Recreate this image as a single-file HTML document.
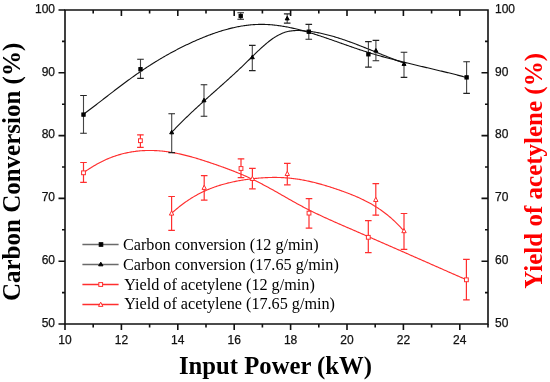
<!DOCTYPE html><html><head><meta charset="utf-8"><style>html,body{margin:0;padding:0;background:#fff;}svg{display:block;}</style></head><body>
<svg width="550" height="382" viewBox="0 0 550 382">
<rect width="550" height="382" fill="#fff"/>
<path d="M65,10 H488 V324 H65 Z" stroke="#111" stroke-width="1.6" fill="none" stroke-linecap="square"/>
<path d="M65.00,324 v6 M93.20,324 v3.5 M93.20,10 v3.5 M121.40,324 v6 M121.40,10 v6 M149.60,324 v3.5 M149.60,10 v3.5 M177.80,324 v6 M177.80,10 v6 M206.00,324 v3.5 M206.00,10 v3.5 M234.20,324 v6 M234.20,10 v6 M262.40,324 v3.5 M262.40,10 v3.5 M290.60,324 v6 M290.60,10 v6 M318.80,324 v3.5 M318.80,10 v3.5 M347.00,324 v6 M347.00,10 v6 M375.20,324 v3.5 M375.20,10 v3.5 M403.40,324 v6 M403.40,10 v6 M431.60,324 v3.5 M431.60,10 v3.5 M459.80,324 v6 M459.80,10 v6 M488.00,324 v3.5 M65,324.00 h-6.5 M65,292.60 h-3 M488,292.60 h-3 M65,261.20 h-6.5 M488,261.20 h-6.5 M65,229.80 h-3 M488,229.80 h-3 M65,198.40 h-6.5 M488,198.40 h-6.5 M65,167.00 h-3 M488,167.00 h-3 M65,135.60 h-6.5 M488,135.60 h-6.5 M65,104.20 h-3 M488,104.20 h-3 M65,72.80 h-6.5 M488,72.80 h-6.5 M65,41.40 h-3 M488,41.40 h-3 M65,10.00 h-6.5" stroke="#111" stroke-width="1.6" fill="none"/>
<g font-family="Liberation Sans, Arial, sans-serif" font-size="12" fill="#111" stroke="#111" stroke-width="0.25">
<text x="65.00" y="344" text-anchor="middle">10</text>
<text x="121.40" y="344" text-anchor="middle">12</text>
<text x="177.80" y="344" text-anchor="middle">14</text>
<text x="234.20" y="344" text-anchor="middle">16</text>
<text x="290.60" y="344" text-anchor="middle">18</text>
<text x="347.00" y="344" text-anchor="middle">20</text>
<text x="403.40" y="344" text-anchor="middle">22</text>
<text x="459.80" y="344" text-anchor="middle">24</text>
<text x="55" y="326.70" text-anchor="end">50</text>
<text x="495" y="326.70">50</text>
<text x="55" y="263.90" text-anchor="end">60</text>
<text x="495" y="263.90">60</text>
<text x="55" y="201.10" text-anchor="end">70</text>
<text x="495" y="201.10">70</text>
<text x="55" y="138.30" text-anchor="end">80</text>
<text x="495" y="138.30">80</text>
<text x="55" y="75.50" text-anchor="end">90</text>
<text x="495" y="75.50">90</text>
<text x="55" y="12.70" text-anchor="end">100</text>
<text x="495" y="12.70">100</text>
</g>
<text x="275.5" y="374" text-anchor="middle" font-family="Liberation Serif, Times New Roman, serif" font-weight="bold" font-size="24.7" fill="#000">Input Power (kW)</text>
<text transform="translate(20.4,171.9) rotate(-90)" text-anchor="middle" font-family="Liberation Serif, Times New Roman, serif" font-weight="bold" font-size="25" fill="#000">Carbon Conversion (%)</text>
<text transform="translate(541.6,170.9) rotate(-90)" text-anchor="middle" font-family="Liberation Serif, Times New Roman, serif" font-weight="bold" font-size="25" fill="#ff0000">Yield of acetylene (%)</text>
<path d="M83.50,114.30 L84.50,113.52 L85.50,112.77 L86.50,112.03 L87.50,111.28 L88.50,110.53 L89.50,109.77 L90.50,109.01 L91.50,108.26 L92.50,107.49 L93.50,106.73 L94.50,105.97 L95.50,105.20 L96.50,104.44 L97.50,103.67 L98.50,102.90 L99.50,102.13 L100.50,101.36 L101.50,100.59 L102.50,99.81 L103.50,99.04 L104.50,98.27 L105.50,97.49 L106.50,96.72 L107.50,95.95 L108.50,95.18 L109.50,94.41 L110.50,93.64 L111.50,92.87 L112.50,92.10 L113.50,91.33 L114.50,90.56 L115.50,89.80 L116.50,89.03 L117.50,88.27 L118.50,87.51 L119.50,86.75 L120.50,86.00 L121.50,85.24 L122.50,84.49 L123.50,83.74 L124.50,83.00 L125.50,82.26 L126.50,81.52 L127.50,80.78 L128.50,80.05 L129.50,79.32 L130.50,78.59 L131.50,77.87 L132.50,77.15 L133.50,76.43 L134.50,75.72 L135.50,75.02 L136.50,74.32 L137.50,73.62 L138.50,72.93 L139.50,72.24 L140.50,71.55 L141.50,70.87 L142.50,70.20 L143.50,69.53 L144.50,68.86 L145.50,68.20 L146.50,67.54 L147.50,66.89 L148.50,66.24 L149.50,65.60 L150.50,64.96 L151.50,64.32 L152.50,63.69 L153.50,63.07 L154.50,62.44 L155.50,61.83 L156.50,61.21 L157.50,60.60 L158.50,60.00 L159.50,59.40 L160.50,58.80 L161.50,58.21 L162.50,57.63 L163.50,57.04 L164.50,56.47 L165.50,55.89 L166.50,55.32 L167.50,54.76 L168.50,54.20 L169.50,53.64 L170.50,53.09 L171.50,52.54 L172.50,52.00 L173.50,51.46 L174.50,50.93 L175.50,50.40 L176.50,49.87 L177.50,49.35 L178.50,48.83 L179.50,48.32 L180.50,47.81 L181.50,47.31 L182.50,46.81 L183.50,46.31 L184.50,45.82 L185.50,45.34 L186.50,44.85 L187.50,44.38 L188.50,43.90 L189.50,43.43 L190.50,42.97 L191.50,42.51 L192.50,42.05 L193.50,41.60 L194.50,41.15 L195.50,40.71 L196.50,40.27 L197.50,39.84 L198.50,39.41 L199.50,38.98 L200.50,38.56 L201.50,38.14 L202.50,37.73 L203.50,37.32 L204.50,36.92 L205.50,36.52 L206.50,36.13 L207.50,35.74 L208.50,35.36 L209.50,34.98 L210.50,34.61 L211.50,34.24 L212.50,33.88 L213.50,33.53 L214.50,33.18 L215.50,32.83 L216.50,32.49 L217.50,32.16 L218.50,31.83 L219.50,31.51 L220.50,31.19 L221.50,30.88 L222.50,30.58 L223.50,30.28 L224.50,29.99 L225.50,29.71 L226.50,29.43 L227.50,29.16 L228.50,28.89 L229.50,28.63 L230.50,28.38 L231.50,28.14 L232.50,27.90 L233.50,27.67 L234.50,27.44 L235.50,27.23 L236.50,27.02 L237.50,26.82 L238.50,26.62 L239.50,26.44 L240.50,26.26 L241.50,26.08 L242.50,25.92 L243.50,25.76 L244.50,25.62 L245.50,25.47 L246.50,25.34 L247.50,25.22 L248.50,25.10 L249.50,24.99 L250.50,24.89 L251.50,24.80 L252.50,24.72 L253.50,24.64 L254.50,24.58 L255.50,24.52 L256.50,24.47 L257.50,24.43 L258.50,24.40 L259.50,24.38 L260.50,24.37 L261.50,24.37 L262.50,24.37 L263.50,24.39 L264.50,24.41 L265.50,24.44 L266.50,24.48 L267.50,24.53 L268.50,24.59 L269.50,24.65 L270.50,24.72 L271.50,24.80 L272.50,24.89 L273.50,24.99 L274.50,25.09 L275.50,25.20 L276.50,25.32 L277.50,25.45 L278.50,25.58 L279.50,25.72 L280.50,25.87 L281.50,26.02 L282.50,26.18 L283.50,26.35 L284.50,26.52 L285.50,26.70 L286.50,26.89 L287.50,27.08 L288.50,27.28 L289.50,27.48 L290.50,27.69 L291.50,27.91 L292.50,28.13 L293.50,28.35 L294.50,28.58 L295.50,28.82 L296.50,29.06 L297.50,29.31 L298.50,29.56 L299.50,29.82 L300.50,30.08 L301.50,30.34 L302.50,30.61 L303.50,30.89 L304.50,31.16 L305.50,31.45 L306.50,31.73 L307.50,32.02 L308.50,32.32 L309.50,32.62 L310.50,32.92 L311.50,33.22 L312.50,33.53 L313.50,33.84 L314.50,34.15 L315.50,34.47 L316.50,34.79 L317.50,35.11 L318.50,35.44 L319.50,35.76 L320.50,36.09 L321.50,36.43 L322.50,36.76 L323.50,37.10 L324.50,37.44 L325.50,37.78 L326.50,38.12 L327.50,38.46 L328.50,38.81 L329.50,39.15 L330.50,39.50 L331.50,39.85 L332.50,40.20 L333.50,40.55 L334.50,40.90 L335.50,41.25 L336.50,41.60 L337.50,41.96 L338.50,42.31 L339.50,42.66 L340.50,43.02 L341.50,43.37 L342.50,43.72 L343.50,44.08 L344.50,44.43 L345.50,44.78 L346.50,45.14 L347.50,45.49 L348.50,45.84 L349.50,46.19 L350.50,46.54 L351.50,46.88 L352.50,47.23 L353.50,47.57 L354.50,47.92 L355.50,48.26 L356.50,48.60 L357.50,48.94 L358.50,49.28 L359.50,49.61 L360.50,49.94 L361.50,50.27 L362.50,50.60 L363.50,50.93 L364.50,51.25 L365.50,51.57 L366.50,51.89 L367.50,52.20 L368.50,52.51 L369.50,52.82 L370.50,53.13 L371.50,53.43 L372.50,53.73 L373.50,54.03 L374.50,54.33 L375.50,54.63 L376.50,54.92 L377.50,55.21 L378.50,55.50 L379.50,55.78 L380.50,56.07 L381.50,56.35 L382.50,56.63 L383.50,56.90 L384.50,57.18 L385.50,57.45 L386.50,57.73 L387.50,58.00 L388.50,58.26 L389.50,58.53 L390.50,58.80 L391.50,59.06 L392.50,59.32 L393.50,59.58 L394.50,59.84 L395.50,60.10 L396.50,60.35 L397.50,60.61 L398.50,60.86 L399.50,61.11 L400.50,61.36 L401.50,61.61 L402.50,61.86 L403.50,62.11 L404.50,62.36 L405.50,62.60 L406.50,62.85 L407.50,63.09 L408.50,63.33 L409.50,63.57 L410.50,63.82 L411.50,64.06 L412.50,64.30 L413.50,64.53 L414.50,64.77 L415.50,65.01 L416.50,65.25 L417.50,65.49 L418.50,65.72 L419.50,65.96 L420.50,66.19 L421.50,66.43 L422.50,66.66 L423.50,66.90 L424.50,67.13 L425.50,67.37 L426.50,67.60 L427.50,67.84 L428.50,68.07 L429.50,68.31 L430.50,68.54 L431.50,68.78 L432.50,69.01 L433.50,69.25 L434.50,69.49 L435.50,69.72 L436.50,69.96 L437.50,70.20 L438.50,70.43 L439.50,70.67 L440.50,70.91 L441.50,71.15 L442.50,71.39 L443.50,71.63 L444.50,71.87 L445.50,72.11 L446.50,72.36 L447.50,72.60 L448.50,72.84 L449.50,73.09 L450.50,73.34 L451.50,73.59 L452.50,73.83 L453.50,74.08 L454.50,74.34 L455.50,74.59 L456.50,74.84 L457.50,75.10 L458.50,75.35 L459.50,75.61 L460.50,75.87 L461.50,76.13 L462.50,76.39 L463.50,76.66 L464.50,76.92 L465.50,77.19 L466.50,77.30" stroke="#111" stroke-width="1.1" fill="none"/>
<path d="M171.80,132.10 L172.80,131.13 L173.80,130.07 L174.80,129.02 L175.80,127.98 L176.80,126.95 L177.80,125.92 L178.80,124.91 L179.80,123.89 L180.80,122.89 L181.80,121.89 L182.80,120.90 L183.80,119.91 L184.80,118.93 L185.80,117.96 L186.80,116.99 L187.80,116.03 L188.80,115.07 L189.80,114.11 L190.80,113.17 L191.80,112.22 L192.80,111.28 L193.80,110.35 L194.80,109.42 L195.80,108.49 L196.80,107.57 L197.80,106.65 L198.80,105.73 L199.80,104.82 L200.80,103.91 L201.80,103.00 L202.80,102.09 L203.80,101.19 L204.80,100.29 L205.80,99.39 L206.80,98.49 L207.80,97.60 L208.80,96.71 L209.80,95.81 L210.80,94.92 L211.80,94.03 L212.80,93.14 L213.80,92.25 L214.80,91.36 L215.80,90.47 L216.80,89.58 L217.80,88.70 L218.80,87.81 L219.80,86.92 L220.80,86.02 L221.80,85.13 L222.80,84.24 L223.80,83.34 L224.80,82.45 L225.80,81.55 L226.80,80.65 L227.80,79.75 L228.80,78.84 L229.80,77.94 L230.80,77.03 L231.80,76.12 L232.80,75.20 L233.80,74.28 L234.80,73.36 L235.80,72.43 L236.80,71.50 L237.80,70.57 L238.80,69.63 L239.80,68.69 L240.80,67.74 L241.80,66.79 L242.80,65.84 L243.80,64.87 L244.80,63.91 L245.80,62.93 L246.80,61.96 L247.80,60.98 L248.80,59.99 L249.80,59.01 L250.80,58.03 L251.80,57.04 L252.80,56.06 L253.80,55.08 L254.80,54.11 L255.80,53.14 L256.80,52.18 L257.80,51.22 L258.80,50.28 L259.80,49.34 L260.80,48.42 L261.80,47.50 L262.80,46.60 L263.80,45.72 L264.80,44.85 L265.80,44.00 L266.80,43.16 L267.80,42.34 L268.80,41.55 L269.80,40.77 L270.80,40.01 L271.80,39.28 L272.80,38.57 L273.80,37.89 L274.80,37.23 L275.80,36.61 L276.80,36.00 L277.80,35.43 L278.80,34.89 L279.80,34.38 L280.80,33.90 L281.80,33.46 L282.80,33.05 L283.80,32.68 L284.80,32.34 L285.80,32.04 L286.80,31.77 L287.80,31.53 L288.80,31.32 L289.80,31.13 L290.80,30.98 L291.80,30.85 L292.80,30.75 L293.80,30.66 L294.80,30.60 L295.80,30.56 L296.80,30.54 L297.80,30.53 L298.80,30.54 L299.80,30.57 L300.80,30.61 L301.80,30.66 L302.80,30.72 L303.80,30.79 L304.80,30.86 L305.80,30.95 L306.80,31.05 L307.80,31.15 L308.80,31.27 L309.80,31.39 L310.80,31.52 L311.80,31.66 L312.80,31.81 L313.80,31.96 L314.80,32.13 L315.80,32.30 L316.80,32.48 L317.80,32.66 L318.80,32.86 L319.80,33.06 L320.80,33.27 L321.80,33.48 L322.80,33.71 L323.80,33.94 L324.80,34.17 L325.80,34.41 L326.80,34.66 L327.80,34.92 L328.80,35.18 L329.80,35.45 L330.80,35.72 L331.80,36.00 L332.80,36.29 L333.80,36.58 L334.80,36.87 L335.80,37.17 L336.80,37.48 L337.80,37.79 L338.80,38.11 L339.80,38.43 L340.80,38.75 L341.80,39.08 L342.80,39.42 L343.80,39.76 L344.80,40.10 L345.80,40.45 L346.80,40.80 L347.80,41.15 L348.80,41.51 L349.80,41.87 L350.80,42.23 L351.80,42.60 L352.80,42.97 L353.80,43.35 L354.80,43.72 L355.80,44.10 L356.80,44.48 L357.80,44.87 L358.80,45.26 L359.80,45.64 L360.80,46.04 L361.80,46.43 L362.80,46.82 L363.80,47.22 L364.80,47.62 L365.80,48.02 L366.80,48.42 L367.80,48.82 L368.80,49.22 L369.80,49.62 L370.80,50.03 L371.80,50.43 L372.80,50.84 L373.80,51.25 L374.80,51.65 L375.80,52.06 L376.80,52.46 L377.80,52.87 L378.80,53.28 L379.80,53.68 L380.80,54.09 L381.80,54.49 L382.80,54.89 L383.80,55.30 L384.80,55.70 L385.80,56.10 L386.80,56.50 L387.80,56.90 L388.80,57.29 L389.80,57.69 L390.80,58.08 L391.80,58.47 L392.80,58.86 L393.80,59.24 L394.80,59.63 L395.80,60.01 L396.80,60.39 L397.80,60.77 L398.80,61.14 L399.80,61.51 L400.80,61.88 L401.80,62.24 L402.80,62.60 L403.80,62.96 L404.10,63.10" stroke="#111" stroke-width="1.1" fill="none"/>
<path d="M83.60,172.50 L84.60,171.98 L85.60,171.27 L86.60,170.57 L87.60,169.88 L88.60,169.21 L89.60,168.55 L90.60,167.91 L91.60,167.28 L92.60,166.66 L93.60,166.05 L94.60,165.46 L95.60,164.88 L96.60,164.31 L97.60,163.76 L98.60,163.22 L99.60,162.69 L100.60,162.17 L101.60,161.67 L102.60,161.17 L103.60,160.69 L104.60,160.23 L105.60,159.77 L106.60,159.33 L107.60,158.89 L108.60,158.47 L109.60,158.07 L110.60,157.67 L111.60,157.28 L112.60,156.91 L113.60,156.55 L114.60,156.20 L115.60,155.86 L116.60,155.53 L117.60,155.21 L118.60,154.91 L119.60,154.61 L120.60,154.33 L121.60,154.05 L122.60,153.79 L123.60,153.54 L124.60,153.30 L125.60,153.07 L126.60,152.85 L127.60,152.64 L128.60,152.44 L129.60,152.25 L130.60,152.07 L131.60,151.90 L132.60,151.74 L133.60,151.59 L134.60,151.45 L135.60,151.32 L136.60,151.19 L137.60,151.08 L138.60,150.98 L139.60,150.89 L140.60,150.80 L141.60,150.73 L142.60,150.66 L143.60,150.61 L144.60,150.56 L145.60,150.52 L146.60,150.49 L147.60,150.47 L148.60,150.46 L149.60,150.46 L150.60,150.46 L151.60,150.48 L152.60,150.50 L153.60,150.53 L154.60,150.56 L155.60,150.61 L156.60,150.66 L157.60,150.73 L158.60,150.80 L159.60,150.87 L160.60,150.96 L161.60,151.05 L162.60,151.15 L163.60,151.26 L164.60,151.38 L165.60,151.50 L166.60,151.63 L167.60,151.77 L168.60,151.91 L169.60,152.06 L170.60,152.22 L171.60,152.38 L172.60,152.56 L173.60,152.73 L174.60,152.92 L175.60,153.11 L176.60,153.31 L177.60,153.51 L178.60,153.72 L179.60,153.93 L180.60,154.15 L181.60,154.38 L182.60,154.61 L183.60,154.85 L184.60,155.09 L185.60,155.34 L186.60,155.59 L187.60,155.85 L188.60,156.11 L189.60,156.38 L190.60,156.65 L191.60,156.92 L192.60,157.20 L193.60,157.49 L194.60,157.78 L195.60,158.07 L196.60,158.37 L197.60,158.67 L198.60,158.97 L199.60,159.28 L200.60,159.59 L201.60,159.90 L202.60,160.22 L203.60,160.54 L204.60,160.86 L205.60,161.18 L206.60,161.51 L207.60,161.84 L208.60,162.17 L209.60,162.51 L210.60,162.85 L211.60,163.19 L212.60,163.53 L213.60,163.87 L214.60,164.21 L215.60,164.56 L216.60,164.91 L217.60,165.26 L218.60,165.61 L219.60,165.96 L220.60,166.32 L221.60,166.67 L222.60,167.03 L223.60,167.40 L224.60,167.76 L225.60,168.13 L226.60,168.50 L227.60,168.87 L228.60,169.24 L229.60,169.62 L230.60,170.00 L231.60,170.39 L232.60,170.77 L233.60,171.16 L234.60,171.56 L235.60,171.95 L236.60,172.36 L237.60,172.76 L238.60,173.17 L239.60,173.58 L240.60,174.00 L241.60,174.42 L242.60,174.84 L243.60,175.27 L244.60,175.71 L245.60,176.15 L246.60,176.59 L247.60,177.04 L248.60,177.49 L249.60,177.95 L250.60,178.41 L251.60,178.88 L252.60,179.36 L253.60,179.83 L254.60,180.32 L255.60,180.81 L256.60,181.30 L257.60,181.80 L258.60,182.31 L259.60,182.82 L260.60,183.33 L261.60,183.85 L262.60,184.37 L263.60,184.89 L264.60,185.42 L265.60,185.96 L266.60,186.50 L267.60,187.04 L268.60,187.58 L269.60,188.13 L270.60,188.68 L271.60,189.23 L272.60,189.79 L273.60,190.35 L274.60,190.91 L275.60,191.47 L276.60,192.04 L277.60,192.61 L278.60,193.18 L279.60,193.75 L280.60,194.32 L281.60,194.89 L282.60,195.46 L283.60,196.04 L284.60,196.61 L285.60,197.18 L286.60,197.76 L287.60,198.33 L288.60,198.90 L289.60,199.47 L290.60,200.04 L291.60,200.60 L292.60,201.17 L293.60,201.73 L294.60,202.29 L295.60,202.84 L296.60,203.39 L297.60,203.94 L298.60,204.49 L299.60,205.03 L300.60,205.57 L301.60,206.10 L302.60,206.63 L303.60,207.16 L304.60,207.68 L305.60,208.20 L306.60,208.71 L307.60,209.22 L308.60,209.73 L309.60,210.23 L310.60,210.73 L311.60,211.23 L312.60,211.72 L313.60,212.21 L314.60,212.70 L315.60,213.18 L316.60,213.66 L317.60,214.14 L318.60,214.61 L319.60,215.09 L320.60,215.56 L321.60,216.03 L322.60,216.49 L323.60,216.95 L324.60,217.41 L325.60,217.87 L326.60,218.33 L327.60,218.78 L328.60,219.24 L329.60,219.69 L330.60,220.14 L331.60,220.59 L332.60,221.03 L333.60,221.48 L334.60,221.92 L335.60,222.36 L336.60,222.80 L337.60,223.24 L338.60,223.68 L339.60,224.12 L340.60,224.56 L341.60,224.99 L342.60,225.43 L343.60,225.87 L344.60,226.30 L345.60,226.73 L346.60,227.17 L347.60,227.60 L348.60,228.04 L349.60,228.47 L350.60,228.90 L351.60,229.34 L352.60,229.77 L353.60,230.21 L354.60,230.64 L355.60,231.08 L356.60,231.51 L357.60,231.94 L358.60,232.38 L359.60,232.81 L360.60,233.25 L361.60,233.69 L362.60,234.12 L363.60,234.56 L364.60,234.99 L365.60,235.43 L366.60,235.86 L367.60,236.30 L368.60,236.74 L369.60,237.17 L370.60,237.61 L371.60,238.05 L372.60,238.48 L373.60,238.92 L374.60,239.36 L375.60,239.80 L376.60,240.23 L377.60,240.67 L378.60,241.11 L379.60,241.55 L380.60,241.98 L381.60,242.42 L382.60,242.86 L383.60,243.30 L384.60,243.74 L385.60,244.17 L386.60,244.61 L387.60,245.05 L388.60,245.49 L389.60,245.93 L390.60,246.37 L391.60,246.81 L392.60,247.24 L393.60,247.68 L394.60,248.12 L395.60,248.56 L396.60,249.00 L397.60,249.44 L398.60,249.88 L399.60,250.32 L400.60,250.76 L401.60,251.20 L402.60,251.64 L403.60,252.08 L404.60,252.52 L405.60,252.96 L406.60,253.40 L407.60,253.84 L408.60,254.28 L409.60,254.72 L410.60,255.16 L411.60,255.60 L412.60,256.04 L413.60,256.48 L414.60,256.92 L415.60,257.36 L416.60,257.80 L417.60,258.24 L418.60,258.68 L419.60,259.12 L420.60,259.56 L421.60,260.00 L422.60,260.44 L423.60,260.88 L424.60,261.33 L425.60,261.77 L426.60,262.21 L427.60,262.65 L428.60,263.09 L429.60,263.53 L430.60,263.97 L431.60,264.41 L432.60,264.85 L433.60,265.29 L434.60,265.73 L435.60,266.18 L436.60,266.62 L437.60,267.06 L438.60,267.50 L439.60,267.94 L440.60,268.38 L441.60,268.82 L442.60,269.26 L443.60,269.70 L444.60,270.15 L445.60,270.59 L446.60,271.03 L447.60,271.47 L448.60,271.91 L449.60,272.35 L450.60,272.79 L451.60,273.23 L452.60,273.67 L453.60,274.11 L454.60,274.55 L455.60,275.00 L456.60,275.44 L457.60,275.88 L458.60,276.32 L459.60,276.76 L460.60,277.20 L461.60,277.64 L462.60,278.08 L463.60,278.52 L464.60,278.96 L465.60,279.40 L466.40,279.50" stroke="#ff2e2e" stroke-width="1.15" fill="none"/>
<path d="M171.50,213.30 L172.50,212.53 L173.50,211.63 L174.50,210.75 L175.50,209.88 L176.50,209.03 L177.50,208.20 L178.50,207.38 L179.50,206.57 L180.50,205.79 L181.50,205.01 L182.50,204.25 L183.50,203.51 L184.50,202.78 L185.50,202.07 L186.50,201.37 L187.50,200.69 L188.50,200.02 L189.50,199.36 L190.50,198.72 L191.50,198.10 L192.50,197.48 L193.50,196.88 L194.50,196.29 L195.50,195.72 L196.50,195.16 L197.50,194.61 L198.50,194.07 L199.50,193.55 L200.50,193.04 L201.50,192.54 L202.50,192.05 L203.50,191.58 L204.50,191.12 L205.50,190.66 L206.50,190.22 L207.50,189.79 L208.50,189.38 L209.50,188.97 L210.50,188.57 L211.50,188.18 L212.50,187.81 L213.50,187.44 L214.50,187.08 L215.50,186.73 L216.50,186.39 L217.50,186.06 L218.50,185.74 L219.50,185.42 L220.50,185.11 L221.50,184.82 L222.50,184.53 L223.50,184.24 L224.50,183.97 L225.50,183.70 L226.50,183.44 L227.50,183.18 L228.50,182.93 L229.50,182.69 L230.50,182.46 L231.50,182.23 L232.50,182.01 L233.50,181.79 L234.50,181.58 L235.50,181.38 L236.50,181.18 L237.50,180.99 L238.50,180.80 L239.50,180.62 L240.50,180.45 L241.50,180.28 L242.50,180.11 L243.50,179.95 L244.50,179.80 L245.50,179.65 L246.50,179.50 L247.50,179.36 L248.50,179.23 L249.50,179.10 L250.50,178.97 L251.50,178.85 L252.50,178.73 L253.50,178.62 L254.50,178.51 L255.50,178.41 L256.50,178.31 L257.50,178.21 L258.50,178.12 L259.50,178.04 L260.50,177.96 L261.50,177.89 L262.50,177.82 L263.50,177.76 L264.50,177.70 L265.50,177.65 L266.50,177.60 L267.50,177.56 L268.50,177.52 L269.50,177.49 L270.50,177.47 L271.50,177.45 L272.50,177.44 L273.50,177.43 L274.50,177.43 L275.50,177.43 L276.50,177.44 L277.50,177.46 L278.50,177.48 L279.50,177.51 L280.50,177.54 L281.50,177.58 L282.50,177.63 L283.50,177.68 L284.50,177.74 L285.50,177.81 L286.50,177.88 L287.50,177.96 L288.50,178.05 L289.50,178.14 L290.50,178.24 L291.50,178.34 L292.50,178.46 L293.50,178.58 L294.50,178.70 L295.50,178.84 L296.50,178.98 L297.50,179.12 L298.50,179.28 L299.50,179.44 L300.50,179.60 L301.50,179.78 L302.50,179.96 L303.50,180.14 L304.50,180.33 L305.50,180.53 L306.50,180.73 L307.50,180.94 L308.50,181.16 L309.50,181.38 L310.50,181.60 L311.50,181.83 L312.50,182.07 L313.50,182.31 L314.50,182.56 L315.50,182.81 L316.50,183.07 L317.50,183.33 L318.50,183.60 L319.50,183.87 L320.50,184.14 L321.50,184.42 L322.50,184.71 L323.50,185.00 L324.50,185.29 L325.50,185.59 L326.50,185.89 L327.50,186.20 L328.50,186.51 L329.50,186.82 L330.50,187.14 L331.50,187.46 L332.50,187.79 L333.50,188.12 L334.50,188.45 L335.50,188.78 L336.50,189.12 L337.50,189.46 L338.50,189.81 L339.50,190.16 L340.50,190.51 L341.50,190.86 L342.50,191.22 L343.50,191.58 L344.50,191.94 L345.50,192.31 L346.50,192.68 L347.50,193.06 L348.50,193.44 L349.50,193.83 L350.50,194.22 L351.50,194.62 L352.50,195.02 L353.50,195.43 L354.50,195.84 L355.50,196.26 L356.50,196.69 L357.50,197.13 L358.50,197.57 L359.50,198.02 L360.50,198.47 L361.50,198.94 L362.50,199.41 L363.50,199.89 L364.50,200.39 L365.50,200.89 L366.50,201.40 L367.50,201.92 L368.50,202.45 L369.50,202.99 L370.50,203.55 L371.50,204.11 L372.50,204.69 L373.50,205.28 L374.50,205.89 L375.50,206.50 L376.50,207.13 L377.50,207.78 L378.50,208.43 L379.50,209.11 L380.50,209.79 L381.50,210.50 L382.50,211.21 L383.50,211.95 L384.50,212.70 L385.50,213.47 L386.50,214.25 L387.50,215.05 L388.50,215.87 L389.50,216.71 L390.50,217.56 L391.50,218.44 L392.50,219.33 L393.50,220.25 L394.50,221.18 L395.50,222.13 L396.50,223.11 L397.50,224.10 L398.50,225.12 L399.50,226.16 L400.50,227.22 L401.50,228.30 L402.50,229.41 L403.50,230.30" stroke="#ff2e2e" stroke-width="1.15" fill="none"/>
<path d="M83.50,95.50 V133.30 M140.50,59.20 V78.40 M240.70,12.80 V19.20 M308.80,24.40 V39.30 M368.40,41.60 V67.10 M466.60,61.80 V93.40" stroke="#444" stroke-width="1.1" fill="none"/><path d="M80.20,95.50 h6.6 M80.20,133.30 h6.6 M137.20,59.20 h6.6 M137.20,78.40 h6.6 M237.40,12.80 h6.6 M237.40,19.20 h6.6 M305.50,24.40 h6.6 M305.50,39.30 h6.6 M365.10,41.60 h6.6 M365.10,67.10 h6.6 M463.30,61.80 h6.6 M463.30,93.40 h6.6" stroke="#222" stroke-width="1.1" fill="none"/>
<path d="M171.70,113.80 V152.60 M204.00,84.80 V116.20 M252.30,45.40 V70.60 M287.20,13.90 V23.10 M375.90,40.40 V60.70 M404.00,52.30 V77.40" stroke="#444" stroke-width="1.1" fill="none"/><path d="M168.40,113.80 h6.6 M168.40,152.60 h6.6 M200.70,84.80 h6.6 M200.70,116.20 h6.6 M249.00,45.40 h6.6 M249.00,70.60 h6.6 M283.90,13.90 h6.6 M283.90,23.10 h6.6 M372.60,40.40 h6.6 M372.60,60.70 h6.6 M400.70,52.30 h6.6 M400.70,77.40 h6.6" stroke="#222" stroke-width="1.1" fill="none"/>
<path d="M83.50,162.50 V182.40 M140.40,134.80 V147.30 M241.00,158.80 V177.70 M309.00,198.60 V228.10 M368.30,220.60 V252.70 M466.40,259.40 V299.90" stroke="#ff2e2e" stroke-width="1.2" fill="none"/><path d="M80.20,162.50 h6.6 M80.20,182.40 h6.6 M137.10,134.80 h6.6 M137.10,147.30 h6.6 M237.70,158.80 h6.6 M237.70,177.70 h6.6 M305.70,198.60 h6.6 M305.70,228.10 h6.6 M365.00,220.60 h6.6 M365.00,252.70 h6.6 M463.10,259.40 h6.6 M463.10,299.90 h6.6" stroke="#ff2e2e" stroke-width="1.2" fill="none"/>
<path d="M171.60,196.50 V230.40 M204.20,175.60 V200.10 M252.40,168.40 V188.80 M287.30,163.40 V184.80 M375.80,183.70 V215.20 M404.00,213.50 V249.30" stroke="#ff2e2e" stroke-width="1.2" fill="none"/><path d="M168.30,196.50 h6.6 M168.30,230.40 h6.6 M200.90,175.60 h6.6 M200.90,200.10 h6.6 M249.10,168.40 h6.6 M249.10,188.80 h6.6 M284.00,163.40 h6.6 M284.00,184.80 h6.6 M372.50,183.70 h6.6 M372.50,215.20 h6.6 M400.70,213.50 h6.6 M400.70,249.30 h6.6" stroke="#ff2e2e" stroke-width="1.2" fill="none"/>
<rect x="81.85" y="112.95" width="3.3" height="3.3" fill="#000" stroke="#000" stroke-width="1"/>
<rect x="138.85" y="67.55" width="3.3" height="3.3" fill="#000" stroke="#000" stroke-width="1"/>
<rect x="239.05" y="14.35" width="3.3" height="3.3" fill="#000" stroke="#000" stroke-width="1"/>
<rect x="307.15" y="30.05" width="3.3" height="3.3" fill="#000" stroke="#000" stroke-width="1"/>
<rect x="366.75" y="52.65" width="3.3" height="3.3" fill="#000" stroke="#000" stroke-width="1"/>
<rect x="464.95" y="75.75" width="3.3" height="3.3" fill="#000" stroke="#000" stroke-width="1"/>
<path d="M171.70,130.22 L173.70,133.82 L169.70,133.82 Z" fill="#000" stroke="#000" stroke-width="1"/>
<path d="M204.00,98.22 L206.00,101.82 L202.00,101.82 Z" fill="#000" stroke="#000" stroke-width="1"/>
<path d="M252.30,55.12 L254.30,58.72 L250.30,58.72 Z" fill="#000" stroke="#000" stroke-width="1"/>
<path d="M287.20,16.32 L289.20,19.92 L285.20,19.92 Z" fill="#000" stroke="#000" stroke-width="1"/>
<path d="M375.90,48.52 L377.90,52.12 L373.90,52.12 Z" fill="#000" stroke="#000" stroke-width="1"/>
<path d="M404.00,61.82 L406.00,65.42 L402.00,65.42 Z" fill="#000" stroke="#000" stroke-width="1"/>
<rect x="81.60" y="170.90" width="3.8" height="3.8" fill="#fff" stroke="#ff2e2e" stroke-width="1"/>
<rect x="138.50" y="138.80" width="3.8" height="3.8" fill="#fff" stroke="#ff2e2e" stroke-width="1"/>
<rect x="239.10" y="166.60" width="3.8" height="3.8" fill="#fff" stroke="#ff2e2e" stroke-width="1"/>
<rect x="307.10" y="211.20" width="3.8" height="3.8" fill="#fff" stroke="#ff2e2e" stroke-width="1"/>
<rect x="366.40" y="235.40" width="3.8" height="3.8" fill="#fff" stroke="#ff2e2e" stroke-width="1"/>
<rect x="464.50" y="277.90" width="3.8" height="3.8" fill="#fff" stroke="#ff2e2e" stroke-width="1"/>
<path d="M171.60,210.89 L173.80,215.09 L169.40,215.09 Z" fill="#fff" stroke="#ff2e2e" stroke-width="1"/>
<path d="M204.20,185.19 L206.40,189.39 L202.00,189.39 Z" fill="#fff" stroke="#ff2e2e" stroke-width="1"/>
<path d="M252.40,176.29 L254.60,180.49 L250.20,180.49 Z" fill="#fff" stroke="#ff2e2e" stroke-width="1"/>
<path d="M287.30,171.29 L289.50,175.49 L285.10,175.49 Z" fill="#fff" stroke="#ff2e2e" stroke-width="1"/>
<path d="M375.80,197.29 L378.00,201.49 L373.60,201.49 Z" fill="#fff" stroke="#ff2e2e" stroke-width="1"/>
<path d="M404.00,228.49 L406.20,232.69 L401.80,232.69 Z" fill="#fff" stroke="#ff2e2e" stroke-width="1"/>
<path d="M82.4,244.5 H118.6" stroke="#6a6a6a" stroke-width="1.3"/>
<rect x="99.20" y="242.70" width="3.6" height="3.6" fill="#000" stroke="#000" stroke-width="1"/>
<text x="123" y="249.5" font-family="Liberation Serif, Times New Roman, serif" font-size="16.2" fill="#000">Carbon conversion (12 g/min)</text>
<path d="M82.4,264.5 H118.6" stroke="#6a6a6a" stroke-width="1.3"/>
<path d="M100.80,262.22 L103.00,265.82 L98.60,265.82 Z" fill="#000" stroke="#000" stroke-width="1"/>
<text x="123" y="269.5" font-family="Liberation Serif, Times New Roman, serif" font-size="16.2" fill="#000">Carbon conversion (17.65 g/min)</text>
<path d="M82.4,284.5 H118.6" stroke="#ff2e2e" stroke-width="1.3"/>
<rect x="98.80" y="282.60" width="3.8" height="3.8" fill="#fff" stroke="#ff2e2e" stroke-width="1"/>
<text x="124.2" y="289.5" font-family="Liberation Serif, Times New Roman, serif" font-size="16.2" fill="#000">Yield of acetylene (12 g/min)</text>
<path d="M82.4,304.5 H118.6" stroke="#ff2e2e" stroke-width="1.3"/>
<path d="M100.70,302.19 L102.90,306.39 L98.50,306.39 Z" fill="#fff" stroke="#ff2e2e" stroke-width="1"/>
<text x="124.2" y="309.4" font-family="Liberation Serif, Times New Roman, serif" font-size="16.2" fill="#000">Yield of acetylene (17.65 g/min)</text>
</svg></body></html>
